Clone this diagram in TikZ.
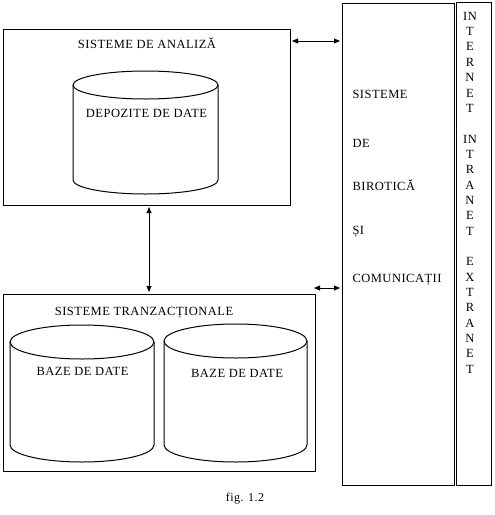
\documentclass[tikz,border=0pt]{standalone}
\usepackage{fontspec}
\setmainfont[LetterSpace=4]{Liberation Serif}
\usetikzlibrary{arrows.meta}
\begin{document}
\begin{tikzpicture}[x=1pt,y=-1pt,
  line width=1pt,
  box/.style={draw,line width=1pt,inner sep=0pt},
  txt/.style={inner sep=0pt,text height=8.5pt,text depth=0pt,font=\fontsize{12.5}{14}\selectfont},
  ltxt/.style={txt,anchor=west},
  arr/.style={{Triangle[length=6pt,width=5pt]}-{Triangle[length=6pt,width=5pt]},line width=0.8pt},
  cyl/.style={draw,line width=1pt}]
\useasboundingbox (0,0) rectangle (495,515);
% boxes
\draw[box] (3,29) rectangle (290,205);
\node[inner sep=0pt] (analiza) at (146.5,117) {};
\path (3,29) coordinate (an1) (290,205) coordinate (an2);
\draw[box] (3,294) rectangle (315,471);
\path (3,294) coordinate (tr1) (315,471) coordinate (tr2);
\draw[box] (342,3) rectangle (454,485);
\draw[box] (456,2) rectangle (491,485);
% titles
\node[txt] (t1) at (147,44) {SISTEME DE ANALIZĂ};
\node[txt] (t2) at (144,311) {SISTEME TRANZACȚIONALE};
% cylinder top
\newcommand{\mycyl}[5]{% x1 x2 ytop ybot ry
  \draw[cyl] ({(#1+#2)/2},#3) ellipse ({(#2-#1)/2} and #5);
  \draw[cyl] (#1,#3) -- (#1,#4) arc[start angle=180,end angle=360,x radius={(#2-#1)/2},y radius=-#5] -- (#2,#3);
}
\mycyl{73}{218}{85}{180}{14}
\mycyl{10}{154}{342}{445}{17}
\mycyl{164}{307}{341}{445}{17}
\node[txt] (d1) at (146.5,113) {DEPOZITE DE DATE};
\node[txt] (b1) at (82.5,371) {BAZE DE DATE};
\node[txt] (b2) at (237,373) {BAZE DE DATE};
% right texts
\node[ltxt] (r1) at (352,94) {SISTEME};
\node[ltxt] (r2) at (352,143) {DE};
\node[ltxt] (r3) at (352,186) {BIROTICĂ};
\node[ltxt] (r4) at (352,230) {ȘI};
\node[ltxt] (r5) at (352,278) {COMUNICAȚII};
% vertical letters
\foreach \t [count=\i] in {IN,T,E,R,N,E,T,{},IN,T,R,A,N,E,T,{},E,X,T,R,A,N,E,T}
  \node[txt] (v\i) at (470,{16+(\i-1)*15.35}) {\t};
% arrows
\coordinate (a1) at (292,41);
\coordinate (a2) at (340,41);
\coordinate (a3) at (149,207);
\coordinate (a4) at (149,292);
\coordinate (a5) at (314,288);
\coordinate (a6) at (340,288);
\draw[arr] (a1) -- (a2);
\draw[arr] (a3) -- (a4);
\draw[arr] (a5) -- (a6);
\node[txt,font=\fontsize{12}{14}\selectfont] (cap) at (245,497) {fig. 1.2};
\end{tikzpicture}
\end{document}
